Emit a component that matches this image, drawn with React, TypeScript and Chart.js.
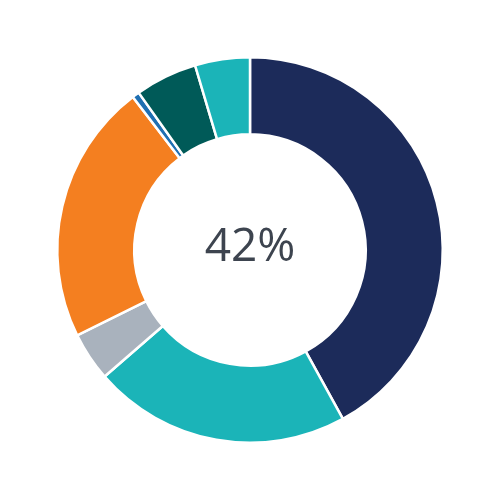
import { useEffect, useRef } from 'react';
import Chart from 'chart.js/auto';

const labels = ['A', 'B', 'C', 'D', 'E', 'F', 'G'];
const values = [42, 21.6, 4.1, 21.9, 0.6, 5.2, 4.6];
const colors = ['#1c2b5a', '#1bb4b8', '#a9b2bd', '#f47f20', '#1f6fb2', '#005a58', '#1bb4b8'];
const centerLabel = '42%';

export default function App() {
  const canvasRef = useRef<HTMLCanvasElement>(null);

  useEffect(() => {
    if (!canvasRef.current) return;
    const chart = new Chart(canvasRef.current, {
      type: 'doughnut',
      data: {
        labels,
        datasets: [{
          data: values,
          backgroundColor: colors,
          borderColor: '#ffffff',
          borderWidth: 2.5,
        }],
      },
      options: {
        responsive: true,
        maintainAspectRatio: false,
        animation: false,
        cutout: '60%',
        layout: { padding: 56 },
        plugins: {
          legend: { display: false },
          tooltip: { enabled: false },
        },
      },
      plugins: [{
        id: 'centerText',
        afterDraw(c) {
          const { ctx, chartArea } = c;
          const x = (chartArea.left + chartArea.right) / 2;
          const y = (chartArea.top + chartArea.bottom) / 2;
          ctx.save();
          ctx.font = '400 46px "Open Sans", sans-serif';
          ctx.fillStyle = '#3d444f';
          ctx.textAlign = 'center';
          ctx.textBaseline = 'middle';
          ctx.fillText(centerLabel, x, y - 2);
          ctx.restore();
        },
      }],
    });
    return () => chart.destroy();
  }, []);

  return (
    <div style={{ position: 'fixed', left: 0, top: 0, width: 500, height: 500, background: '#fff' }}>
      <canvas ref={canvasRef} />
    </div>
  );
}
